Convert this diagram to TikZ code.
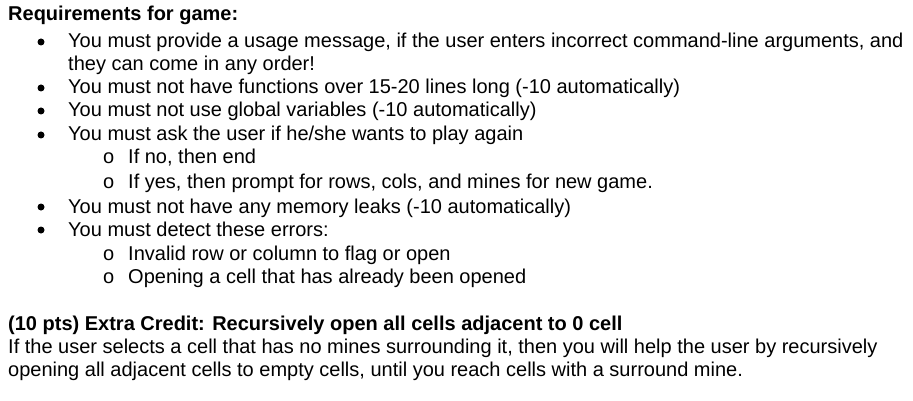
\documentclass[tikz,border=0pt]{standalone}
\usepackage{fontspec}
\setmainfont{Liberation Sans}
\begin{document}
\begin{tikzpicture}[x=1pt,y=-1pt,
  txt/.style={anchor=base west,inner sep=0pt,font=\fontsize{20}{23}\selectfont},
  bld/.style={txt,font=\fontsize{20}{23}\selectfont\bfseries},
  dot/.style={circle,fill=black,inner sep=0pt,minimum size=7pt}]
\useasboundingbox (0,0) rectangle (913,401);
\fill[white] (0,0) rectangle (913,401);
\node[bld] (h1) at (8,21) {Requirements for game:};
\foreach \y/\t [count=\i] in {48/{You must provide a usage message, if the user enters incorrect command-line arguments, and},
  94/{You must not have functions over 15-20 lines long (-10 automatically)},
  117/{You must not use global variables (-10 automatically)},
  141/{You must ask the user if he/she wants to play again},
  213/{You must not have any memory leaks (-10 automatically)},
  236/{You must detect these errors:}}{
  \node[dot] (b\i) at (41,\y-6) {};
  \node[txt] (t\i) at (68,\y) {\t};
}
\node[txt] (t1b) at (68,71) {they can come in any order!};
\foreach \y/\t [count=\i] in {164/{If no, then end},188/{If yes, then prompt for rows, cols, and mines for new game.},
  260/{Invalid row or column to flag or open},283/{Opening a cell that has already been opened}}{
  \node[txt] (o\i) at (103,\y) {o};
  \node[txt] (s\i) at (128,\y) {\t};
}
\node[bld] (h2) at (8,330) {(10 pts) Extra Credit: Recursively open all cells adjacent to 0 cell};
\node[txt] (p1) at (8,353) {If the user selects a cell that has no mines surrounding it, then you will help the user by recursively};
\node[txt] (p2) at (8,376) {opening all adjacent cells to empty cells, until you reach cells with a surround mine.};
\end{tikzpicture}
\end{document}
